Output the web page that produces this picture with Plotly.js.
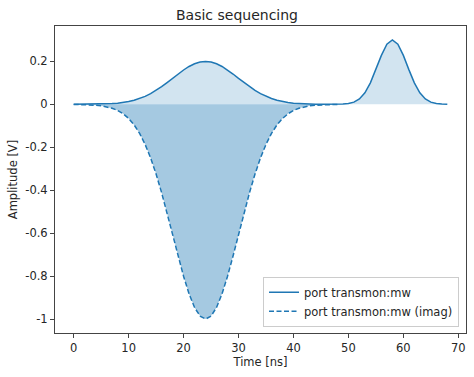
<!DOCTYPE html>
<html>
<head>
<meta charset="utf-8">
<script src="https://cdn.plot.ly/plotly-3.0.1.min.js"></script>
<style>html,body{margin:0;padding:0;background:#fff;}#chart{width:474px;height:377px;}</style>
</head>
<body>
<div id="chart"></div>
<script>
// Time samples [ns]
const timeNs = [0,1,2,3,4,5,6,7,8,9,10,11,12,13,14,15,16,17,18,19,20,21,22,23,24,25,26,27,28,29,30,31,32,33,34,35,36,37,38,39,40,41,42,43,44,45,46,47,48,49,50,51,52,53,54,55,56,57,58,59,60,61,62,63,64,65,66,67,68];
// Real part [V]
const realAmp = [0.0001,0.0001,0.0002,0.0004,0.0008,0.0013,0.0022,0.0036,0.0057,0.0088,0.0131,0.0191,0.0271,0.0373,0.0499,0.0649,0.0822,0.1013,0.1213,0.1413,0.1601,0.1765,0.1892,0.1972,0.2000,0.1972,0.1892,0.1765,0.1601,0.1413,0.1213,0.1013,0.0822,0.0649,0.0499,0.0373,0.0271,0.0191,0.0131,0.0088,0.0057,0.0036,0.0022,0.0013,0.0008,0.0004,0.0002,0.0001,0.0001,0.0012,0.0037,0.0104,0.0254,0.0540,0.1001,0.1618,0.2280,0.2801,0.3000,0.2801,0.2280,0.1618,0.1001,0.0540,0.0254,0.0104,0.0037,0.0012,0.0003];
// Imaginary part [V] (first pulse only, t = 0..48 ns)
const imagAmp = [-0.0003,-0.0006,-0.0012,-0.0022,-0.0039,-0.0066,-0.0111,-0.0181,-0.0286,-0.0439,-0.0657,-0.0956,-0.1353,-0.1863,-0.2494,-0.3247,-0.4111,-0.5063,-0.6065,-0.7066,-0.8007,-0.8825,-0.9460,-0.9862,-1.0000,-0.9862,-0.9460,-0.8825,-0.8007,-0.7066,-0.6065,-0.5063,-0.4111,-0.3247,-0.2494,-0.1863,-0.1353,-0.0956,-0.0657,-0.0439,-0.0286,-0.0181,-0.0111,-0.0066,-0.0039,-0.0022,-0.0012,-0.0006,-0.0003];
const seriesNames = ["port transmon:mw", "port transmon:mw (imag)"];
const xTickVals = [0,10,20,30,40,50,60,70];
const yTickVals = [0.2,0,-0.2,-0.4,-0.6,-0.8,-1];
const yTickText = ["0.2","0","-0.2","-0.4","-0.6","-0.8","-1"];

const blue = "#1f77b4";
const font = "DejaVu Sans, sans-serif";
const txt = "#262626";

const traces = [
  {x: timeNs.slice(0, imagAmp.length), y: imagAmp, type: "scatter", mode: "lines", fill: "tozeroy",
   fillcolor: "rgba(31,119,180,0.4)", line: {color: blue, width: 1.5, dash: "5px,2.5px"}, showlegend: false, hoverinfo: "skip"},
  {x: timeNs, y: realAmp, type: "scatter", mode: "lines", fill: "tozeroy",
   fillcolor: "rgba(31,119,180,0.2)", line: {color: blue, width: 1.5}, showlegend: false, hoverinfo: "skip"},
  {x: [null], y: [null], type: "scatter", mode: "lines", name: seriesNames[0],
   line: {color: blue, width: 1.5}},
  {x: [null], y: [null], type: "scatter", mode: "lines", name: seriesNames[1],
   line: {color: blue, width: 1.5, dash: "5px,2.5px"}}
];

const axisCommon = {
  showgrid: false, zeroline: false, showline: true, mirror: true,
  linecolor: "#444", linewidth: 1, ticks: "outside", ticklen: 4, tickcolor: "#444",
  tickfont: {family: font, size: 11.5, color: txt}
};

const layout = {
  width: 474, height: 377,
  margin: {l: 55, r: 8, t: 26, b: 44},
  paper_bgcolor: "#fff", plot_bgcolor: "#fff",
  font: {family: font, color: txt},
  title: {text: "Basic sequencing", font: {family: font, size: 14, color: txt},
          x: 0.5, xanchor: "center", y: 0.96, yanchor: "middle"},
  xaxis: Object.assign({}, axisCommon, {
    range: [-3.4, 71.4], tickvals: xTickVals,
    title: {text: "Time [ns]", font: {family: font, size: 11.5, color: txt}, standoff: 3}
  }),
  yaxis: Object.assign({}, axisCommon, {
    range: [-1.065, 0.365], tickvals: yTickVals, ticktext: yTickText,
    title: {text: "Amplitude [V]", font: {family: font, size: 11.5, color: txt}, standoff: 5}
  }),
  legend: {x: 0.983, y: 0.02, xanchor: "right", yanchor: "bottom",
           bgcolor: "rgba(255,255,255,0.8)", bordercolor: "#ccc", borderwidth: 1,
           font: {family: font, size: 11.5, color: txt}, tracegroupgap: 0, itemwidth: 30},
  showlegend: true
};

Plotly.newPlot("chart", traces, layout, {displayModeBar: false, staticPlot: true});
</script>
</body>
</html>
